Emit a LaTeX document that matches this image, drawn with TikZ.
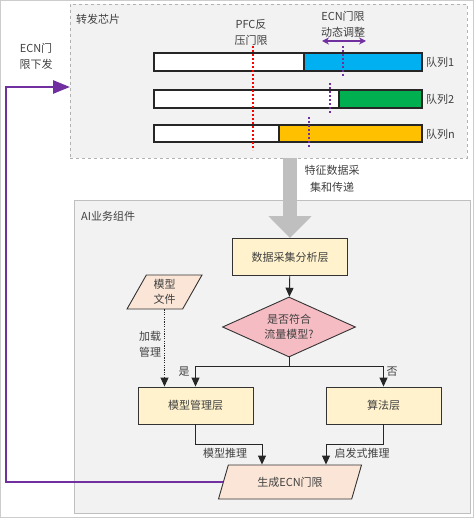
\documentclass[tikz,border=0pt]{standalone}
\usepackage{fontspec}
\setmainfont{Noto Sans CJK SC}
\usetikzlibrary{shapes.geometric,arrows.meta,calc}
\definecolor{panel}{HTML}{F2F2F2}
\definecolor{qblue}{HTML}{00B0F0}
\definecolor{qgreen}{HTML}{00B050}
\definecolor{qorange}{HTML}{FFC000}
\definecolor{ecnpurple}{HTML}{7030A0}
\definecolor{layer}{HTML}{FFF2CC}
\definecolor{decide}{HTML}{F6BCC4}
\definecolor{peach}{HTML}{FBE5D6}
\definecolor{bigarrow}{HTML}{BFBFBF}
\definecolor{txt}{HTML}{404040}
\begin{document}
\begin{tikzpicture}[x=1pt,y=-1pt,
  font=\fontsize{11}{15}\selectfont,
  every node/.style={text=txt},
  chip/.style={draw=black!30, dashed, line width=0.8pt, fill=panel},
  aibox/.style={draw=black!25, line width=0.8pt, fill=panel},
  bar/.style={draw=black!85, line width=1.1pt},
  layerbox/.style={draw=black!80, line width=0.9pt, fill=layer, minimum width=115pt, minimum height=37pt, inner sep=0pt},
  decision/.style={diamond, draw=black!80, line width=0.9pt, fill=decide, minimum width=133pt, minimum height=60pt, inner sep=0pt, aspect=2.2, align=center},
  datashape/.style={trapezium, trapezium stretches=true, draw=black!80, line width=0.9pt, fill=peach, inner sep=0pt, align=center},
  flow/.style={draw=black!85, line width=0.9pt, -{Triangle[width=8pt,length=9pt]}},
  ecnline/.style={draw=ecnpurple, line width=2.6pt},
  lbl/.style={align=center, inner sep=0pt}]
\useasboundingbox (0,0) rectangle (474,518);
\draw[black!20, line width=1pt] (0.5,0.5) rectangle (473.5,517.5);

% forwarding chip panel
\node[chip, minimum width=397pt, minimum height=154pt] (chip) at (268.5,81) {};
\node[anchor=west, inner sep=0pt] (chiptitle) at (76,19) {转发芯片};

% queues
\draw[bar, fill=white] (154,53) rectangle (304,71);
\draw[bar, fill=qblue] (304,53) rectangle (422,71);
\draw[bar, fill=white] (154,90) rectangle (339,108);
\draw[bar, fill=qgreen] (339,90) rectangle (422,108);
\draw[bar, fill=white] (154,125) rectangle (279,142);
\draw[bar, fill=qorange] (279,125) rectangle (422,142);
\node[anchor=west, inner sep=0pt] (q1) at (426,62) {队列1};
\node[anchor=west, inner sep=0pt] (q2) at (426,99) {队列2};
\node[anchor=west, inner sep=0pt] (qn) at (426,134) {队列n};

% thresholds
\draw[red, line width=1.6pt, dash pattern=on 2pt off 2pt] (253,46) -- (253,150);
\draw[ecnpurple, line width=1.4pt, dash pattern=on 2pt off 2pt] (343,46) -- (343,77);
\draw[ecnpurple, line width=1.4pt, dash pattern=on 2pt off 2pt] (330,83) -- (330,113);
\draw[ecnpurple, line width=1.4pt, dash pattern=on 2pt off 2pt] (309,117) -- (309,148);
\node[lbl, font=\fontsize{11}{16}\selectfont] (pfc) at (251,32) {PFC反\\压门限};
\node[lbl, font=\fontsize{11}{16}\selectfont] (ecnadj) at (343,24) {ECN门限\\动态调整};
\coordinate (adjl) at (322,41);
\coordinate (adjr) at (366,41);
\draw[ecnpurple, line width=1.2pt, {Stealth[width=7pt,length=7pt]}-{Stealth[width=7pt,length=7pt]}] (adjl) -- (adjr);

% AI component panel
\node[aibox, minimum width=396pt, minimum height=313pt] (ai) at (272,356.5) {};
\node[anchor=west, inner sep=0pt] (aititle) at (81,216) {AI业务组件};

% flow nodes
\node[layerbox] (collect) at (290,257) {数据采集分析层};
\node[decision] (match) at (289,327) {是否符合\\流量模型?};
\node[layerbox] (mgmt) at (195.5,405.5) {模型管理层};
\node[layerbox] (algo) at (383.5,405.5) {算法层};
\node[datashape, trapezium left angle=65, trapezium right angle=115, minimum width=75pt, minimum height=34pt] (file) at (164.5,292) {模型\\文件};
\node[datashape, trapezium left angle=63, trapezium right angle=117, minimum width=144pt, minimum height=34pt] (gen) at (290,482) {生成ECN门限};

% big gray arrow
\draw[bigarrow, line width=14pt, -{Triangle[width=42pt,length=22pt]}] (collect.north |- chip.south) -- (collect.north);
\node[lbl, font=\fontsize{11}{17}\selectfont] (feat) at (332,179) {特征数据采\\集和传递};

% flow connectors
\draw[flow] (collect) -- (match);
\draw[flow] (match.south) -- ++(0,9) -| (mgmt.north);
\draw[flow] (match.south) -- ++(0,9) -| (algo.north);
\node[inner sep=0pt] (yes) at (184,372) {是};
\node[inner sep=0pt] (no) at (392,372) {否};
\draw[draw=black!85, line width=0.9pt, dash pattern=on 1.2pt off 1.2pt, -{Triangle[width=8pt,length=9pt]}] (file.south) -- (file.south |- mgmt.north);
\node[lbl, font=\fontsize{11}{16}\selectfont] (load) at (150,344) {加载\\管理};

\coordinate (genl) at (262,444);
\coordinate (genr) at (326,444);
\draw[flow] (mgmt.south) |- (genl) -- (genl |- gen.north);
\draw[flow] (algo.south) |- (genr) -- (genr |- gen.north);
\node[inner sep=0pt] (infer1) at (225,453) {模型推理};
\node[inner sep=0pt] (infer2) at (362,453) {启发式推理};

% ECN feedback line
\coordinate (ecnin) at (70,87);
\draw[ecnline, -{Triangle[width=13pt,length=17pt]}] (gen.west) -| (6,87) -- (ecnin);
\node[lbl, font=\fontsize{11}{16}\selectfont] (ecnsend) at (36,56) {ECN门\\限下发};
\end{tikzpicture}
\end{document}
